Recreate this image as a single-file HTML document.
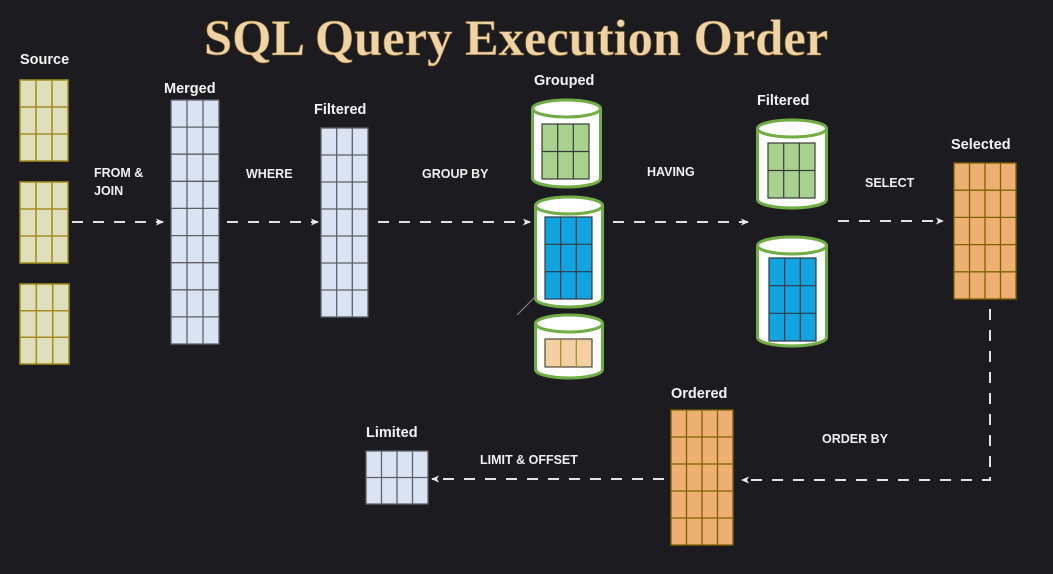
<!DOCTYPE html>
<html>
<head>
<meta charset="utf-8">
<style>
  html,body{margin:0;padding:0;background:#1c1c20;}
  svg{display:block;}
  .lbl{font-family:"Liberation Sans",sans-serif;font-weight:bold;font-size:14.5px;fill:#f4f4f4;}
  .stp{font-family:"Liberation Sans",sans-serif;font-weight:bold;font-size:12.5px;fill:#f0f0f0;}
  .title{font-family:"Liberation Serif",serif;font-weight:bold;font-size:50.5px;fill:#efd3a6;stroke:#8a6a2c;stroke-width:0.6px;}
  .dash{stroke:#e2e2e2;stroke-width:2;stroke-dasharray:11 10;fill:none;}
  .cyl{fill:#ffffff;stroke:#70ad47;stroke-width:3;}
</style>
</head>
<body>
<svg width="1053" height="574" viewBox="0 0 1053 574" xmlns="http://www.w3.org/2000/svg">
  <defs>
    <marker id="ah" markerWidth="10" markerHeight="10" refX="7" refY="4" orient="auto" markerUnits="userSpaceOnUse">
      <path d="M0,0.5 L8,4 L0,7.5 L2,4 Z" fill="#e8e8e8"/>
    </marker>
  </defs>
  <rect x="0" y="0" width="1053" height="574" fill="#1c1c20"/>

  <!-- Title -->
  <text class="title" x="204" y="55">SQL Query Execution Order</text>

  <!-- Labels -->
  <text class="lbl" x="20" y="64">Source</text>
  <text class="lbl" x="164" y="93">Merged</text>
  <text class="lbl" x="314" y="114">Filtered</text>
  <text class="lbl" x="534" y="85">Grouped</text>
  <text class="lbl" x="757" y="105">Filtered</text>
  <text class="lbl" x="951" y="149">Selected</text>
  <text class="lbl" x="671" y="398">Ordered</text>
  <text class="lbl" x="366" y="437">Limited</text>

  <text class="stp" x="94" y="177">FROM &amp;</text>
  <text class="stp" x="94" y="195">JOIN</text>
  <text class="stp" x="246" y="178">WHERE</text>
  <text class="stp" x="422" y="178">GROUP BY</text>
  <text class="stp" x="647" y="176">HAVING</text>
  <text class="stp" x="865" y="187">SELECT</text>
  <text class="stp" x="822" y="443">ORDER BY</text>
  <text class="stp" x="480" y="464">LIMIT &amp; OFFSET</text>

  <!-- Source grids -->
  <g fill="#e0dfbb" stroke="#a38d1e" stroke-width="1.5">
    <rect x="20" y="80" width="48" height="81"/>
    <path d="M36 80V161M52 80V161M20 107H68M20 134H68" fill="none"/>
    <rect x="20" y="182" width="48" height="81"/>
    <path d="M36 182V263M52 182V263M20 209H68M20 236H68" fill="none"/>
    <rect x="20" y="284" width="49" height="80"/>
    <path d="M36.3 284V364M52.7 284V364M20 310.7H69M20 337.3H69" fill="none"/>
  </g>

  <!-- Merged -->
  <g fill="#dae3f3" stroke="#5e6066" stroke-width="1.3">
    <rect x="171" y="100" width="48" height="244"/>
    <path d="M187 100V344M203 100V344M171 127.1H219M171 154.2H219M171 181.3H219M171 208.4H219M171 235.6H219M171 262.7H219M171 289.8H219M171 316.9H219" fill="none"/>
  </g>

  <!-- Filtered 1 -->
  <g fill="#dae3f3" stroke="#5e6066" stroke-width="1.3">
    <rect x="321" y="128" width="47" height="189"/>
    <path d="M336.7 128V317M352.3 128V317M321 155H368M321 182H368M321 209H368M321 236H368M321 263H368M321 290H368" fill="none"/>
  </g>

  <!-- Cylinders -->
  <path class="cyl" d="M532.5 108.5V178.5A34 8.5 0 0 0 600.5 178.5V108.5"/>
  <ellipse class="cyl" cx="566.5" cy="108.5" rx="34" ry="8.5"/>
  <g fill="#a9d18e" stroke="#3a3a3a" stroke-width="1.2">
    <rect x="542" y="124" width="47" height="55"/>
    <path d="M557.7 124V179M573.3 124V179M542 151.5H589" fill="none"/>
  </g>
  <path class="cyl" d="M535.5 205.5V298.5A33.5 8.5 0 0 0 602.5 298.5V205.5"/>
  <ellipse class="cyl" cx="569" cy="205.5" rx="33.5" ry="8.5"/>
  <g fill="#12a3e1" stroke="#2f3a44" stroke-width="1.2">
    <rect x="545" y="217" width="47" height="82"/>
    <path d="M560.7 217V299M576.3 217V299M545 244.3H592M545 271.7H592" fill="none"/>
  </g>
  <path class="cyl" d="M535.5 323.5V369.5A33.5 8.5 0 0 0 602.5 369.5V323.5"/>
  <ellipse class="cyl" cx="569" cy="323.5" rx="33.5" ry="8.5"/>
  <g fill="#f4cfa2" stroke="#4a4a3a" stroke-width="1.2">
    <rect x="545" y="339" width="47" height="28"/>
    <path d="M560.7 339V367M576.3 339V367" fill="none" stroke="#9a8a30"/>
  </g>
  <path class="cyl" d="M757.5 128.5V199.5A34.5 8.5 0 0 0 826.5 199.5V128.5"/>
  <ellipse class="cyl" cx="792" cy="128.5" rx="34.5" ry="8.5"/>
  <g fill="#a9d18e" stroke="#3a3a3a" stroke-width="1.2">
    <rect x="768" y="143" width="47" height="55"/>
    <path d="M783.7 143V198M799.3 143V198M768 170.5H815" fill="none"/>
  </g>
  <path class="cyl" d="M757.5 245.5V337.5A34.5 8.5 0 0 0 826.5 337.5V245.5"/>
  <ellipse class="cyl" cx="792" cy="245.5" rx="34.5" ry="8.5"/>
  <g fill="#12a3e1" stroke="#2f3a44" stroke-width="1.2">
    <rect x="769" y="258" width="47" height="83"/>
    <path d="M784.7 258V341M800.3 258V341M769 285.7H816M769 313.3H816" fill="none"/>
  </g>

  <line x1="517" y1="315" x2="536" y2="296" stroke="#8a8a8a" stroke-width="1"/>

  <!-- Selected -->
  <g fill="#edb072" stroke="#7f6000" stroke-width="1.3">
    <rect x="954" y="163" width="62" height="136"/>
    <path d="M969.5 163V299M985 163V299M1000.5 163V299M954 190.2H1016M954 217.4H1016M954 244.6H1016M954 271.8H1016" fill="none"/>
  </g>

  <!-- Ordered -->
  <g fill="#edb072" stroke="#7f6000" stroke-width="1.3">
    <rect x="671" y="410" width="62" height="135"/>
    <path d="M686.5 410V545M702 410V545M717.5 410V545M671 437H733M671 464H733M671 491H733M671 518H733" fill="none"/>
  </g>

  <!-- Limited -->
  <g fill="#dae3f3" stroke="#5e6066" stroke-width="1.3">
    <rect x="366" y="451" width="62" height="53"/>
    <path d="M381.5 451V504M397 451V504M412.5 451V504M366 477.5H428" fill="none"/>
  </g>

  <!-- Connectors -->
  <line class="dash" x1="72" y1="222" x2="163" y2="222" marker-end="url(#ah)"/>
  <line class="dash" x1="227" y1="222" x2="318" y2="222" marker-end="url(#ah)"/>
  <line class="dash" x1="378" y1="222" x2="530" y2="222" marker-end="url(#ah)"/>
  <line class="dash" x1="613" y1="222" x2="748" y2="222" marker-end="url(#ah)"/>
  <line class="dash" x1="838" y1="221" x2="943" y2="221" marker-end="url(#ah)"/>
  <path class="dash" d="M990 309V480H742" marker-end="url(#ah)"/>
  <line class="dash" x1="664" y1="479" x2="432" y2="479" marker-end="url(#ah)"/>
</svg>
</body>
</html>
